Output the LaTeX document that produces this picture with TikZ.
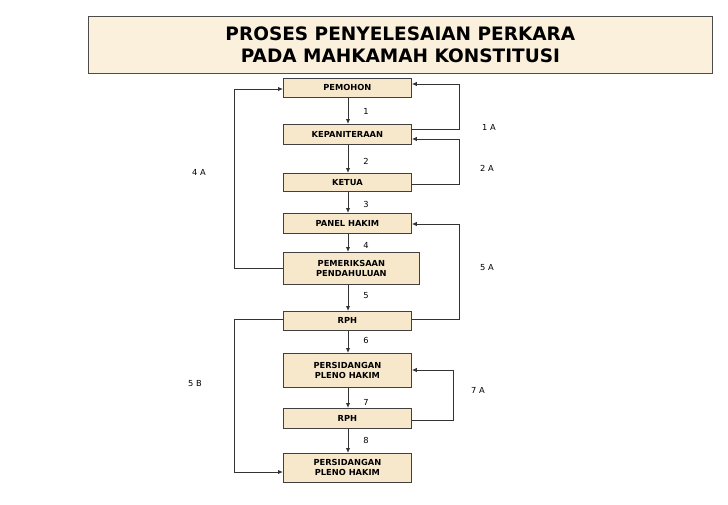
\documentclass[tikz,border=0pt]{standalone}
\usepackage{fontspec}
\setmainfont{DejaVu Sans}
\usetikzlibrary{arrows.meta}
\begin{document}
\begin{tikzpicture}[x=1pt,y=-1pt,
  box/.style={draw=black!75,fill=boxfill,font=\fontsize{8.3}{10}\selectfont\bfseries,align=center,inner sep=0pt},
  lbl/.style={font=\fontsize{8.3}{9}\selectfont,inner sep=0pt},
  arr/.style={draw=black!80,line width=1pt,-{Latex[length=5pt,width=4.5pt]}},
  ln/.style={draw=black!80,line width=1pt}]
\definecolor{boxfill}{HTML}{F7E7CB}
\definecolor{titlefill}{HTML}{FAF0DC}
\useasboundingbox (0,0) rectangle (728,504);
\node[draw=black!70,line width=0.8pt,fill=titlefill,minimum width=624pt,minimum height=57pt,anchor=north west,inner sep=0pt,
  font=\fontsize{18.5}{22}\selectfont\bfseries,align=center] (title) at (88,16) {PROSES PENYELESAIAN PERKARA\\PADA MAHKAMAH KONSTITUSI};
\newcommand{\bx}[6]{\node[box,line width=0.8pt,minimum width=#4pt,minimum height=#5pt,anchor=north west] (#1) at (#2,#3) {#6};}
\bx{a}{283}{78}{128}{19}{PEMOHON}
\bx{b}{283}{124}{128}{20}{KEPANITERAAN}
\bx{c}{283}{173}{128}{18}{KETUA}
\bx{d}{283}{213}{128}{20}{PANEL HAKIM}
\bx{e}{283}{252}{136}{32}{PEMERIKSAAN\\PENDAHULUAN}
\bx{f}{283}{311}{128}{19}{RPH}
\bx{g}{283}{353}{128}{34}{PERSIDANGAN\\PLENO HAKIM}
\bx{h}{283}{408}{128}{20}{RPH}
\bx{i}{283}{453}{128}{29}{PERSIDANGAN\\PLENO HAKIM}
% vertical arrows
\draw[arr] (a.south -| 348,0) -- (b.north -| 348,0);
\draw[arr] (b.south -| 348,0) -- (c.north -| 348,0);
\draw[arr] (c.south -| 348,0) -- (d.north -| 348,0);
\draw[arr] (d.south -| 348,0) -- (e.north -| 348,0);
\draw[arr] (e.south -| 348,0) -- (f.north -| 348,0);
\draw[arr] (f.south -| 348,0) -- (g.north -| 348,0);
\draw[arr] (g.south -| 348,0) -- (h.north -| 348,0);
\draw[arr] (h.south -| 348,0) -- (i.north -| 348,0);
\foreach \t/\y in {1/111,2/161,3/204,4/245,5/296,6/340,7/402,8/440}
  \node[lbl] (n\t) at (366,\y) {\t};
% right loops
\coordinate (r1) at (459,129); \coordinate (r1b) at (459,84);
\draw[arr] (b.east |- r1) -- (r1) -- (r1b) -- (a.east |- r1b);
\coordinate (r2) at (459,184); \coordinate (r2b) at (459,139);
\draw[arr] (c.east |- r2) -- (r2) -- (r2b) -- (b.east |- r2b);
\coordinate (r5) at (459,319); \coordinate (r5b) at (459,224);
\draw[arr] (f.east |- r5) -- (r5) -- (r5b) -- (d.east |- r5b);
\coordinate (r7) at (453,420); \coordinate (r7b) at (453,370);
\draw[arr] (h.east |- r7) -- (r7) -- (r7b) -- (g.east |- r7b);
% left loops
\coordinate (l4) at (234,268); \coordinate (l4b) at (234,89);
\draw[arr] (e.west |- l4) -- (l4) -- (l4b) -- (a.west |- l4b);
\coordinate (l5) at (234,319); \coordinate (l5b) at (234,472);
\draw[arr] (f.west |- l5) -- (l5) -- (l5b) -- (i.west |- l5b);
\node[lbl] (t1) at (489,127) {1 A};
\node[lbl] (t2) at (487,168) {2 A};
\node[lbl] (t4) at (199,172) {4 A};
\node[lbl] (t5) at (487,268) {5 A};
\node[lbl] (t5b) at (195,384) {5 B};
\node[lbl] (t7) at (478,390) {7 A};
\end{tikzpicture}
\end{document}
